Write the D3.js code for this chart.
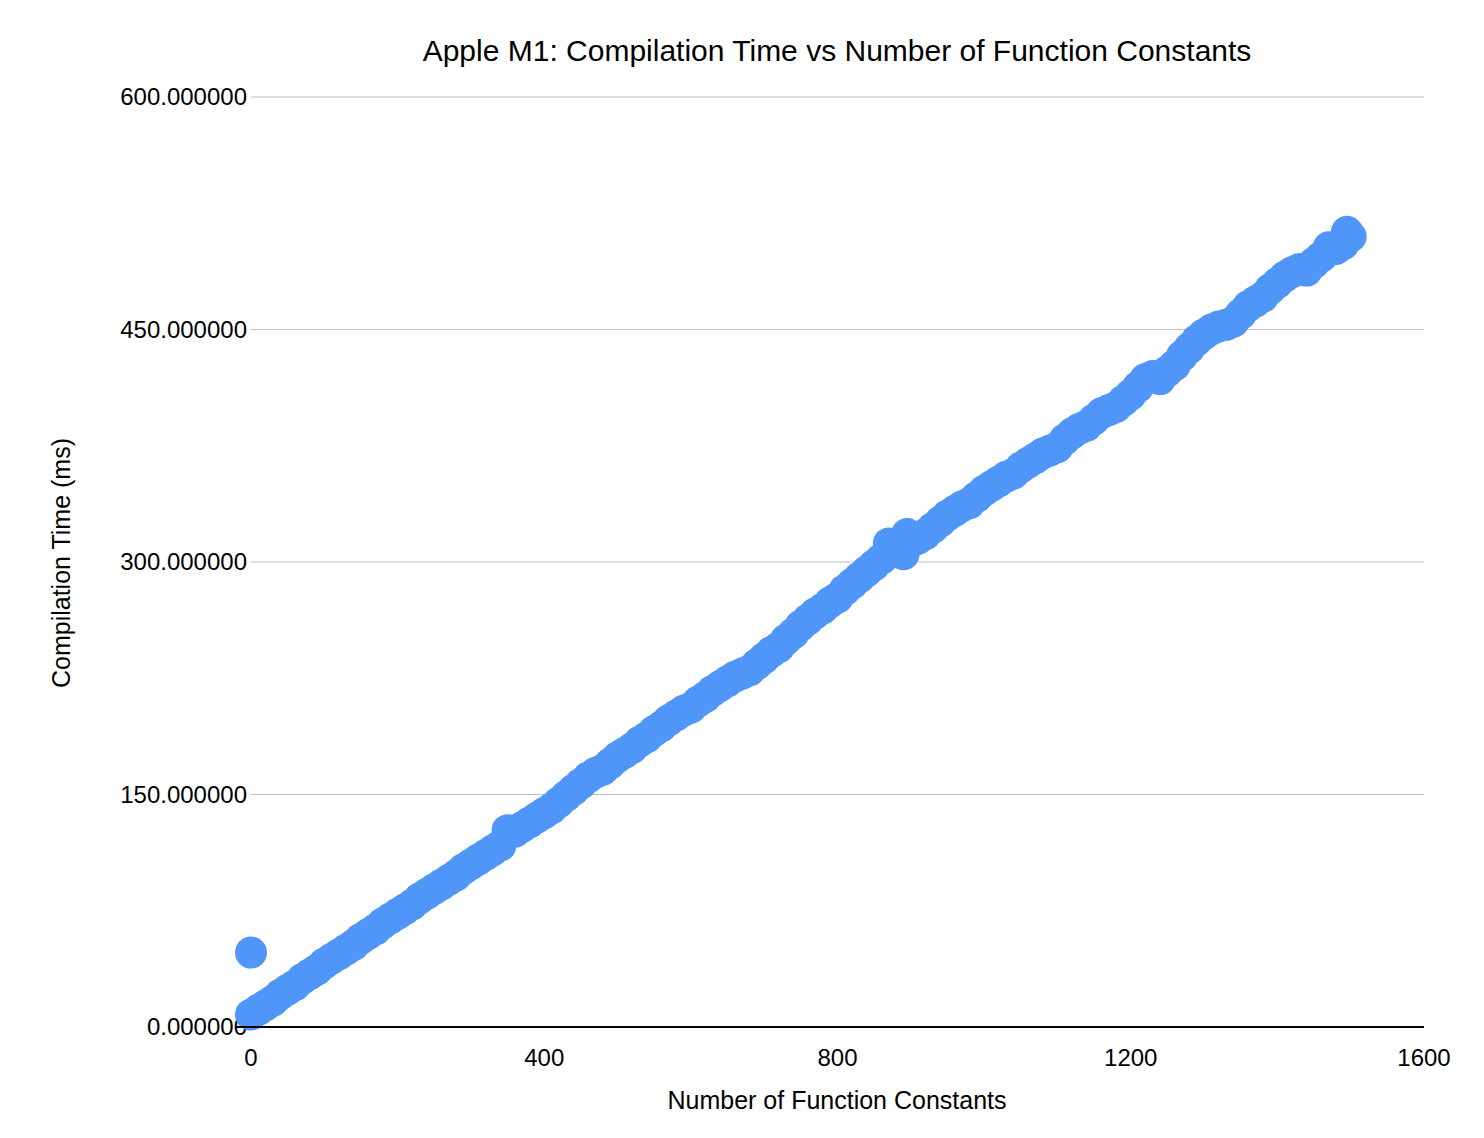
<!DOCTYPE html>
<html><head><meta charset="utf-8">
<script src="https://cdn.jsdelivr.net/npm/d3@7"></script>
<style>body{margin:0;background:#fff}text{font-family:"Liberation Sans",Arial,sans-serif;fill:#000}</style>
</head><body><svg id="c" width="1484" height="1138"></svg>
<script>
const xs=[0,20,40,60,80,100,120,140,160,180,200,220,240,260,280,300,320,340,350,360,380,400,420,440,460,480,500,520,540,560,580,600,620,640,660,680,700,720,740,760,780,800,820,840,860,870,880,895,900,920,940,960,980,1000,1020,1040,1060,1080,1100,1120,1140,1160,1180,1200,1220,1230,1240,1260,1280,1300,1320,1340,1360,1380,1400,1420,1440,1460,1470,1480,1495,1500,0,
 10,30,50,70,90,110,130,150,170,190,210,230,250,270,290,310,330,370,390,410,430,450,470,490,510,530,550,570,590,610,630,650,670,690,710,730,750,770,790,810,830,850,890,910,930,950,970,990,1010,1030,1050,1070,1090,1110,1130,1150,1170,1190,1210,1250,1270,1290,1310,1330,1350,1370,1390,1410,1430,1450,1490];
const ys=[8,14,21,27,34,41,47,53,60,67,73,79,86,92,98,105,111,117,127,126,132,138,145,153,161,166,174,180,187,194,201,206,213,220,226,230,238,245,254,263,270,277,286,294,302,312,308,318,313,318,326,333,338,346,352,357,364,370,374,383,388,396,400,408,418,420,418,427,438,447,452,455,465,471,480,487,488,497,503,502,513,510,48,
 11,17,24,31,37,44,50,57,63,70,76,83,89,95,102,108,114,129,135,141,149,157,164,170,177,184,191,198,204,210,217,223,228,234,242,250,259,267,274,282,290,298,305,315,322,330,336,342,349,355,361,367,372,379,386,392,398,404,413,423,433,443,450,453,460,468,476,484,489,493,505];
const yTicks=[0,150,300,450,600];
const xTicks=[0,400,800,1200,1600];
const svg=d3.select("#c");
const x=d3.scaleLinear().domain([0,1600]).range([251,1424]);
const y=d3.scaleLinear().domain([0,600]).range([1027,97]);
svg.append("g").selectAll("line").data(yTicks.slice(1)).join("line")
 .attr("x1",251).attr("x2",1424).attr("y1",d=>y(d)).attr("y2",d=>y(d)).attr("stroke","#bdbdbd").attr("stroke-width",1);
svg.append("g").selectAll("text").data(yTicks).join("text")
 .attr("x",247).attr("y",d=>y(d)+8).attr("text-anchor","end").attr("font-size",24).text(d=>d.toFixed(6));
svg.append("g").selectAll("text").data(xTicks).join("text")
 .attr("x",d=>x(d)).attr("y",1066).attr("text-anchor","middle").attr("font-size",24).text(d=>d);
svg.append("g").selectAll("circle").data(xs.map((v,i)=>[v,ys[i]])).join("circle")
 .attr("cx",d=>x(d[0])).attr("cy",d=>y(d[1])).attr("r",16).attr("fill","#5096f9");
svg.append("line").attr("x1",236).attr("x2",1424).attr("y1",1027).attr("y2",1027).attr("stroke","#000").attr("stroke-width",2);
svg.append("text").attr("x",837).attr("y",61).attr("text-anchor","middle").attr("font-size",30).text("Apple M1: Compilation Time vs Number of Function Constants");
svg.append("text").attr("x",837).attr("y",1109).attr("text-anchor","middle").attr("font-size",25).text("Number of Function Constants");
svg.append("text").attr("transform","translate(70,563) rotate(-90)").attr("text-anchor","middle").attr("font-size",25).text("Compilation Time (ms)");
</script></body></html>
